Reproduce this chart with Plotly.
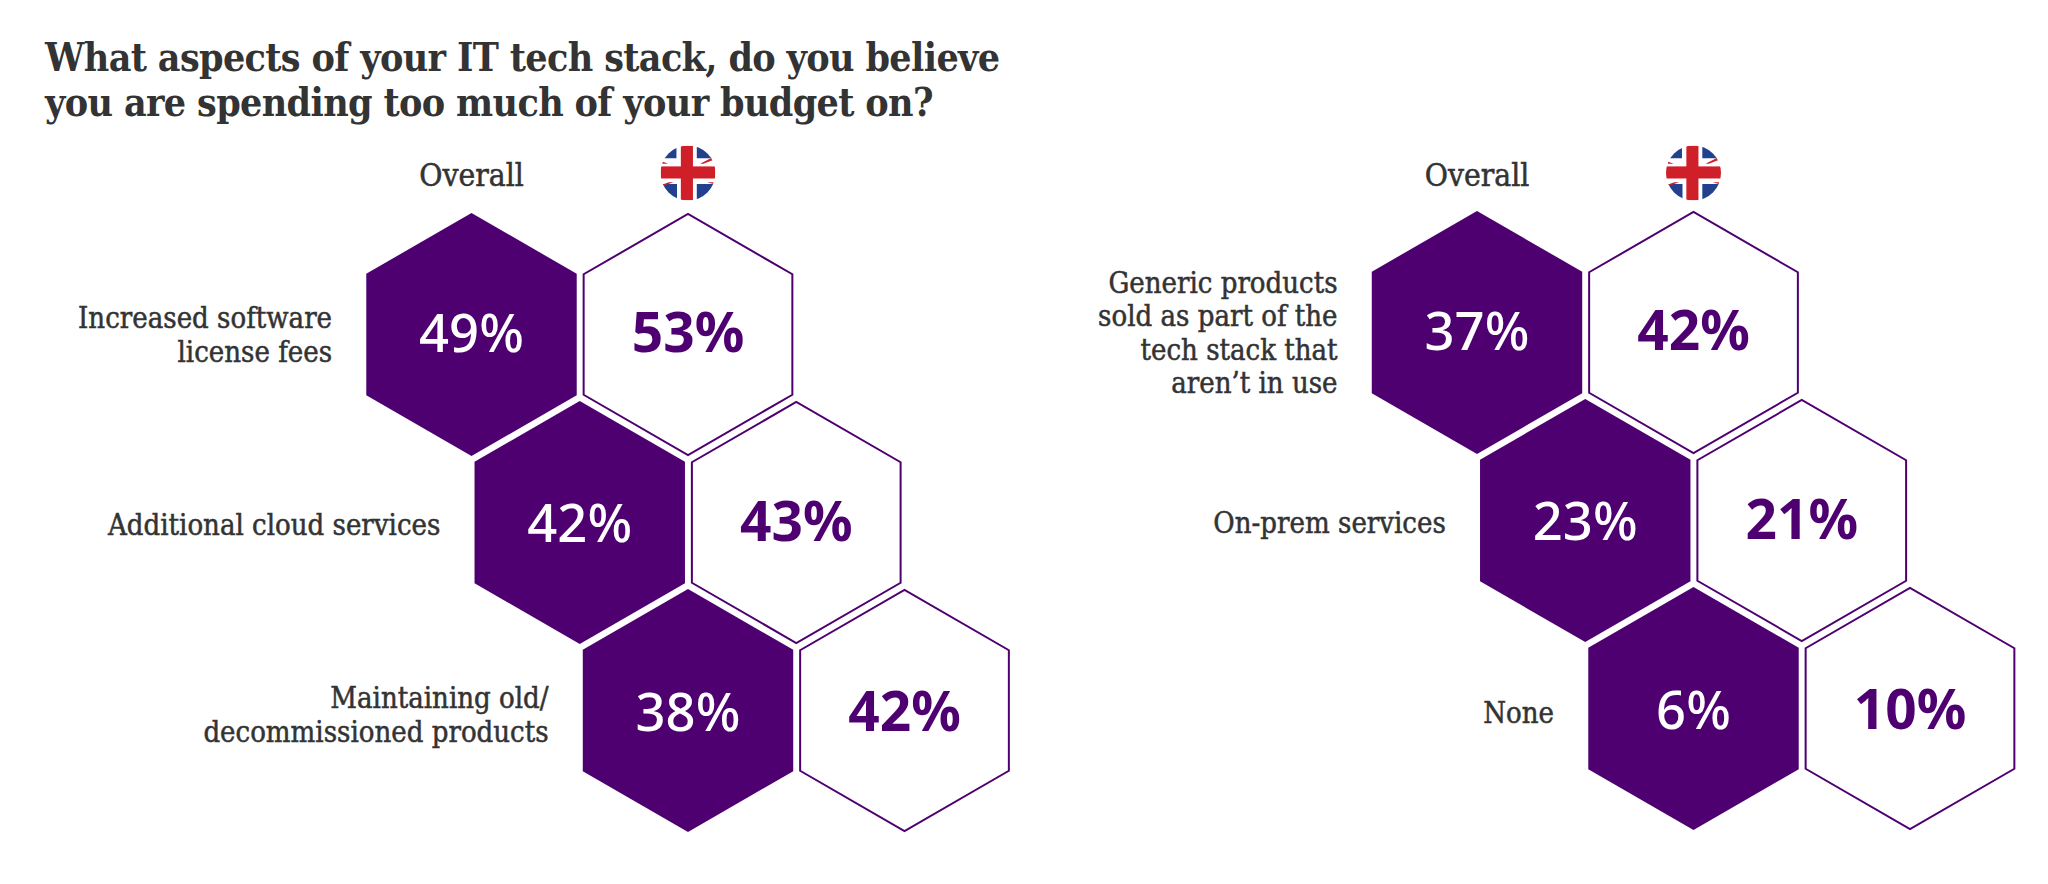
import base64
import plotly.graph_objects as go

# Survey results, one list per panel and per series
left_labels = [["Increased software", "license fees"], ["Additional cloud services"], ["Maintaining old/", "decommissioned products"]]
left_overall = [49, 42, 38]
left_uk = [53, 43, 42]
right_labels = [["Generic products", "sold as part of the", "tech stack that", "aren’t in use"], ["On-prem services"], ["None"]]
right_overall = [37, 23, 6]
right_uk = [42, 21, 10]
title_lines = ["What aspects of your IT tech stack, do you believe", "you are spending too much of your budget on?"]
column_header = "Overall"

PURPLE = "#4e0070"
INK = "#333333"
SERIF = "DejaVu Serif Condensed, DejaVu Serif, serif"
NUM_FONT = "Noto Sans, sans-serif"
W, H = 2048, 884
UNIT_X, UNIT_Y = 216.5, 188.0
HEX_SIZE = 243
LABEL_X = -0.644
LINE_STEP = 33.5 / UNIT_Y
LABEL_DY = 3 / UNIT_Y
LABEL_PITCH = 190 / UNIT_Y
VALUE_PITCH = 189.5 / UNIT_Y
OVERALL_DY = 4.5 / UNIT_Y
UK_DY = 3.5 / UNIT_Y
FLAG_PX_Y = 173
HEADER_PX_Y = 178
TEXT_WEIGHT = "stroke:#333333;stroke-width:0.5px"

FLAG_SVG = """<svg xmlns='http://www.w3.org/2000/svg' viewBox='0 0 100 100'>
<defs><clipPath id='c'><circle cx='50' cy='50' r='50'/></clipPath></defs>
<g clip-path='url(#c)'>
<rect width='100' height='100' fill='#ffffff'/>
<path d='M29 0V23H0V0ZM66 0V23H100V0ZM30 100V70H0V100ZM66 100V70H100V100Z' fill='#23408e'/>
<path d='M3 29L14 33L3 33ZM72 33L94 22L97 26L78 33ZM5 73L24 67L15 67L4 71ZM85 67L97 67L96 70Z' fill='#cf202a'/>
<rect x='37' y='0' width='22' height='100' fill='#cf202a'/>
<rect x='0' y='38' width='100' height='22' fill='#cf202a'/>
</g></svg>"""
FLAG_URI = "data:image/svg+xml;base64," + base64.b64encode(FLAG_SVG.encode()).decode()

fig = go.Figure()
images = []


def add_panel(labels, overall, uk, xa, ya, origin_y):
    rows = list(range(len(labels)))
    # each row is shifted half a column, which gives the honeycomb staircase
    fig.add_trace(go.Scatter(
        x=[r / 2 for r in rows], y=rows, xaxis=xa, yaxis=ya, mode="markers",
        name="Overall", hoverinfo="skip", cliponaxis=False,
        marker=dict(symbol="hexagon", size=HEX_SIZE, color=PURPLE, line=dict(width=0)),
    ))
    fig.add_trace(go.Scatter(
        x=[1 + r / 2 for r in rows], y=rows, xaxis=xa, yaxis=ya, mode="markers",
        name="UK", hoverinfo="skip", cliponaxis=False,
        marker=dict(symbol="hexagon", size=HEX_SIZE - 2, color="#ffffff", line=dict(width=2, color=PURPLE)),
    ))
    fig.add_trace(go.Scatter(
        x=[r / 2 for r in rows], y=[r * VALUE_PITCH + OVERALL_DY for r in rows], xaxis=xa, yaxis=ya, mode="text",
        hoverinfo="skip", cliponaxis=False,
        text=[f"{v}%" for v in overall], textposition="middle center",
        textfont=dict(family=NUM_FONT, size=52.5, color="#ffffff", weight=500),
    ))
    fig.add_trace(go.Scatter(
        x=[1 + r / 2 for r in rows], y=[r * VALUE_PITCH + UK_DY for r in rows], xaxis=xa, yaxis=ya, mode="text",
        hoverinfo="skip", cliponaxis=False,
        text=[f"{v}%" for v in uk], textposition="middle center",
        textfont=dict(family=NUM_FONT, size=55, color=PURPLE, weight=700),
    ))
    # row captions are set line by line so the leading can stay tight
    line_x, line_y, line_text = [], [], []
    for r, lines in zip(rows, labels):
        for i, line in enumerate(lines):
            line_x.append(LABEL_X + r / 2)
            line_y.append(r * LABEL_PITCH + LABEL_DY + (i - (len(lines) - 1) / 2) * LINE_STEP)
            line_text.append(line)
    fig.add_trace(go.Scatter(
        x=line_x, y=line_y, xaxis=xa, yaxis=ya, mode="text",
        hoverinfo="skip", cliponaxis=False,
        text=[f'<span style="{TEXT_WEIGHT}">{t}</span>' for t in line_text],
        textposition="middle left",
        textfont=dict(family=SERIF, size=29, color=INK),
    ))
    fig.add_trace(go.Scatter(
        x=[0], y=[(HEADER_PX_Y - origin_y) / UNIT_Y], xaxis=xa, yaxis=ya, mode="text",
        hoverinfo="skip", cliponaxis=False,
        text=[f'<span style="{TEXT_WEIGHT}">{column_header}</span>'],
        textposition="middle center",
        textfont=dict(family=SERIF, size=31.5, color=INK),
    ))
    images.append(dict(
        source=FLAG_URI, xref=xa, yref=ya, x=1, y=(FLAG_PX_Y - origin_y) / UNIT_Y,
        sizex=55 / UNIT_X, sizey=55 / UNIT_Y, sizing="contain",
        xanchor="center", yanchor="middle", layer="above",
    ))


LEFT_ORIGIN_Y, RIGHT_ORIGIN_Y = 334.5, 332.5
add_panel(left_labels, left_overall, left_uk, "x", "y", LEFT_ORIGIN_Y)
add_panel(right_labels, right_overall, right_uk, "x2", "y2", RIGHT_ORIGIN_Y)


def panel_axes(x_start, x_end, origin_x, origin_y):
    xaxis = dict(domain=[x_start / W, x_end / W], visible=False, fixedrange=True,
                 range=[(x_start - origin_x) / UNIT_X, (x_end - origin_x) / UNIT_X])
    yaxis = dict(domain=[0, 1], visible=False, fixedrange=True,
                 range=[(H - origin_y) / UNIT_Y, (0 - origin_y) / UNIT_Y])
    return xaxis, yaxis


xa1, ya1 = panel_axes(0, 1024, 471.5, LEFT_ORIGIN_Y)
xa2, ya2 = panel_axes(1024, 2048, 1477, RIGHT_ORIGIN_Y)
ya2["anchor"] = "x2"
xa2["anchor"] = "y2"

annotations = [
    dict(text=f'<span style="letter-spacing:-0.65px">{line}</span>', xref="paper", yref="paper",
         x=42 / W, y=1 - yc / H, xanchor="left", yanchor="middle",
         showarrow=False, font=dict(family=SERIF, size=39, color=INK, weight=700))
    for line, yc in zip(title_lines, (57, 102))
]

fig.update_layout(
    width=W, height=H, margin=dict(l=0, r=0, t=0, b=0, pad=0),
    paper_bgcolor="#ffffff", plot_bgcolor="#ffffff", showlegend=False,
    xaxis=xa1, yaxis=ya1, xaxis2=xa2, yaxis2=ya2,
    images=images, annotations=annotations,
)
fig.write_html("out.html")
